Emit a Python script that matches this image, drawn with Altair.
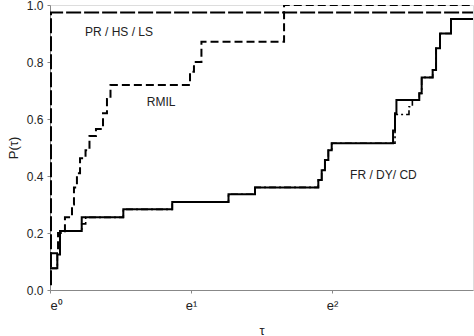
import altair as alt
import pandas as pd

# log(tau) positions and P(tau) values
pr_t = [0.0, 0.007, 3.0]
pr_p = [0.02, 0.974, 0.974]

rmil_t = [0.0, 0.057, 0.106, 0.156, 0.170, 0.191, 0.213, 0.252, 0.280, 0.326,
          0.376, 0.404, 0.429, 0.993, 1.021, 1.074, 1.66, 3.0]
rmil_p = [0.129, 0.20, 0.255, 0.30, 0.36, 0.41, 0.462, 0.49, 0.54, 0.565,
          0.62, 0.67, 0.719, 0.766, 0.80, 0.871, 1.0, 1.0]

fr_t = [0.0, 0.052, 0.071, 0.225, 0.52, 0.867, 1.266, 1.454, 1.903, 1.927,
        1.950, 1.974, 1.998, 2.433, 2.447, 2.457, 2.619, 2.636, 2.714, 2.738,
        2.766, 2.844, 3.0]
fr_p = [0.076, 0.125, 0.207, 0.255, 0.283, 0.309, 0.336, 0.36, 0.386, 0.42,
        0.456, 0.49, 0.515, 0.56, 0.62, 0.667, 0.69, 0.746, 0.772, 0.848,
        0.90, 0.951, 0.951]

dy_t = [0.0, 0.052, 0.071, 0.225, 0.253, 0.52, 0.867, 1.266, 1.454, 1.903,
        1.927, 1.950, 1.974, 1.998, 2.447, 2.546, 2.57, 2.619, 2.636, 2.714,
        2.738, 2.766, 2.844, 3.0]
dy_p = [0.076, 0.125, 0.207, 0.232, 0.255, 0.283, 0.309, 0.336, 0.36, 0.386,
        0.42, 0.456, 0.49, 0.515, 0.616, 0.643, 0.667, 0.69, 0.746, 0.772,
        0.848, 0.90, 0.951, 0.951]

label_text = ["PR / HS / LS", "RMIL", "FR / DY/ CD"]
label_t = [0.248, 0.686, 2.128]
label_p = [0.906, 0.661, 0.404]

x_ticks = [0, 1, 2]
y_ticks = [0.0, 0.2, 0.4, 0.6, 0.8, 1.0]

FONT = "Liberation Sans"

xscale = alt.Scale(domain=[0, 3], nice=False, zero=False)
yscale = alt.Scale(domain=[0, 1], nice=False)

xaxis = alt.Axis(values=x_ticks, title="τ", grid=False,
                 labelExpr="datum.value == 0 ? 'e⁰' : (datum.value == 1 ? 'e¹' : 'e²')",
                 tickSize=3, labelPadding=6, titlePadding=12,
                 labelFontSize=13, titleFontSize=13, titleFontWeight="normal",
                 labelColor="#222", titleColor="#222")
yaxis = alt.Axis(values=y_ticks, title="P(τ)", grid=False, format=".1f",
                 tickSize=3, labelPadding=4, titlePadding=6,
                 labelFontSize=12, titleFontSize=13, titleFontWeight="normal",
                 labelColor="#222", titleColor="#222")


def curve(ts, ps, dash, width=2.0):
    df = pd.DataFrame({"t": ts, "p": ps})
    mk = alt.Chart(df).mark_line(interpolate="step-after", color="black",
                                 strokeWidth=width, strokeDash=dash, clip=True)
    return mk.encode(x=alt.X("t:Q", scale=xscale, axis=xaxis),
                     y=alt.Y("p:Q", scale=yscale, axis=yaxis))


dy = curve(dy_t, dy_p, [7, 3, 2, 3], 1.6)
fr = curve(fr_t, fr_p, [1, 0], 2.0)
rmil = curve(rmil_t, rmil_p, [8, 4], 2.0)
pr = curve(pr_t, pr_p, [15, 3], 2.0)

labels = alt.Chart(pd.DataFrame({"t": label_t, "p": label_p, "s": label_text})).mark_text(
    align="left", baseline="middle", fontSize=12, font=FONT, color="#222"
).encode(x=alt.X("t:Q", scale=xscale), y=alt.Y("p:Q", scale=yscale), text="s:N")

chart = alt.layer(dy, fr, rmil, pr, labels).properties(
    width=423, height=285,
    autosize=alt.AutoSizeParams(type="none"),
    padding={"left": 50, "top": 5, "right": 1, "bottom": 46},
).configure_view(stroke="#666", strokeWidth=1.5).configure_axis(
    domainColor="#333", tickColor="#333", labelFont=FONT, titleFont=FONT
).configure(background="white")

chart.save("out.html", embed_options={"renderer": "svg", "actions": False})
